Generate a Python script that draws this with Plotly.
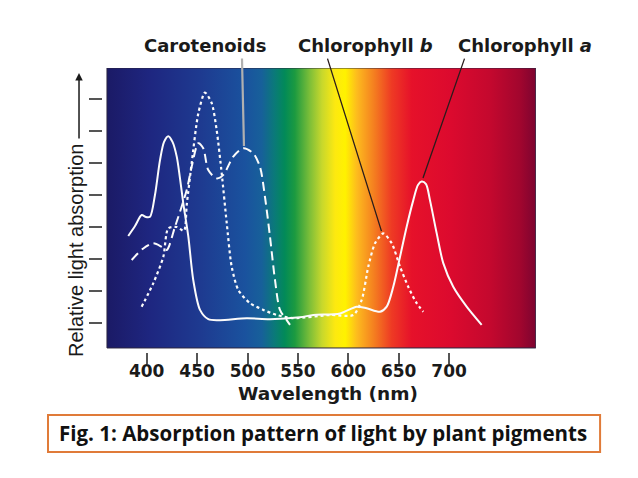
import plotly.graph_objects as go

# ---------------- data (wavelength in nm, relative absorption) ----------------
chl_a_nm = [381.7, 388.4, 395.0, 399.3, 403.3, 408.2, 413.2, 417.2, 421.4, 425.6, 429.8, 433.0,
            436.3, 441.3, 446.2, 452.9, 461.1, 472.7, 499.2, 522.3, 552.1, 565.3, 591.8, 608.3,
            618.2, 631.5, 638.1, 644.6, 651.3, 657.9, 664.5, 669.1, 672.8, 677.1, 681.0, 687.7,
            694.2, 704.1, 717.4, 732.3]
chl_a_abs = [2.72, 3.03, 3.375, 3.31, 3.32, 4.0, 5.09, 5.66, 5.84, 5.66, 5.20, 4.53,
             3.74, 2.70, 1.34, 0.41, 0.12, 0.09, 0.15, 0.12, 0.18, 0.25, 0.30, 0.51,
             0.46, 0.35, 0.51, 1.13, 2.07, 3.01, 3.84, 4.31, 4.42, 4.34, 3.84, 2.80,
             1.87, 1.13, 0.51, -0.06]

chl_b_nm = [395.0, 406.5, 416.5, 421.4, 429.8, 437.0, 439.7, 444.6, 451.2, 457.8, 464.5, 469.4,
            474.4, 479.4, 484.3, 490.9, 502.5, 515.7, 529.0, 545.4, 581.8, 605.0, 613.3, 619.8,
            626.5, 634.7, 643.1, 651.3, 659.5, 667.8, 674.4]
chl_b_abs = [0.51, 1.24, 2.07, 2.96, 3.0, 2.88, 3.69, 4.99, 6.55, 7.20, 6.87, 6.03,
             4.68, 3.12, 1.76, 1.03, 0.62, 0.41, 0.25, 0.15, 0.25, 0.25, 0.72, 1.76,
             2.49, 2.80, 2.49, 1.76, 1.13, 0.62, 0.35]

car_nm = [385.1, 396.6, 406.5, 414.9, 419.8, 428.1, 439.7, 444.6, 451.2, 456.1, 461.1, 469.4,
          476.0, 485.9, 495.8, 505.7, 512.4, 517.3, 522.3, 527.3, 532.2, 538.9, 542.2]
car_abs = [1.97, 2.33, 2.49, 2.38, 2.28, 3.01, 4.16, 4.88, 5.62, 5.46, 4.78, 4.52,
           4.63, 5.20, 5.46, 5.30, 4.88, 3.95, 2.70, 1.34, 0.41, 0.09, -0.06]

x_tick_vals = [400, 450, 500, 550, 600, 650, 700]
x_tick_text = ["400", "450", "500", "550", "600", "650", "700"]
y_tick_vals = [0, 1, 2, 3, 4, 5, 6, 7]

# visible spectrum background (wavelength stops and their colours)
spectrum_nm = [360.6, 403, 453, 497.5, 514, 527, 537, 547, 562, 574, 587, 597,
               608.6, 626.5, 643, 663, 701, 740.6, 770, 786]
spectrum_colors = ['#1b1a66', '#1e2680', '#1e3a90', '#1a529e', '#17609a', '#0a7a78',
                   '#028a58', '#1c9a40', '#7ebf38', '#c8d82c', '#fde910', '#fff200',
                   '#fdbb1e', '#f47b20', '#ee3a24', '#e6112a', '#dc0a2e', '#c4082e',
                   '#a2062e', '#7d0430']
spectrum_y = [-0.78, 7.97]

# label pointer lines: (label tail nm, tail value, peak nm, peak value)
pointer_car = (494.5, 8.31, 496.5, 5.53)
pointer_b = (578.9, 8.31, 632.9, 2.87)
pointer_a = (715.8, 8.31, 674.1, 4.53)

# ---------------- figure ----------------
fig = go.Figure()

lo, hi = spectrum_nm[0], spectrum_nm[-1]
cscale = [[(v - lo) / (hi - lo), c] for v, c in zip(spectrum_nm, spectrum_colors)]
fig.add_trace(go.Scatter(
    x=[lo, hi, hi, lo, lo],
    y=[spectrum_y[0], spectrum_y[0], spectrum_y[1], spectrum_y[1], spectrum_y[0]],
    mode="lines", fill="toself",
    fillgradient=dict(type="horizontal", colorscale=cscale),
    line=dict(color="#2b2540", width=1), hoverinfo="skip"))

line_col = "#fbfbfb"
fig.add_trace(go.Scatter(x=chl_a_nm, y=chl_a_abs, mode="lines",
                         line=dict(color=line_col, width=2, shape="spline", smoothing=0.8)))
fig.add_trace(go.Scatter(x=chl_b_nm, y=chl_b_abs, mode="lines",
                         line=dict(color=line_col, width=2.2, dash="3px,3px", shape="spline", smoothing=0.7)))
fig.add_trace(go.Scatter(x=car_nm, y=car_abs, mode="lines",
                         line=dict(color=line_col, width=2, dash="9px,5px", shape="spline", smoothing=0.8)))

ann = []
for (tx, ty, hx, hy), col, w in [(pointer_car, "#b0b0b0", 2.2), (pointer_b, "#2a1c1c", 1.3),
                                 (pointer_a, "#2a1c1c", 1.3)]:
    ann.append(dict(x=hx, y=hy, ax=tx, ay=ty, xref="x", yref="y", axref="x", ayref="y",
                    text="", showarrow=True, arrowhead=0, arrowwidth=w, arrowcolor=col))

bold = dict(family="DejaVu Sans", size=18, color="#1a1a1a", weight="bold")
C = dict(xanchor="center", yanchor="middle", showarrow=False, xref="paper", yref="paper")
ann += [
    dict(x=0.2356, y=1.079, text="Carotenoids", font=bold, **C),
    dict(x=0.607, y=1.079, text="Chlorophyll <i>b</i>", font=bold, **C),
    dict(x=0.9746, y=1.079, text="Chlorophyll <i>a</i>", font=bold, **C),
    dict(x=0.5185, y=-0.1444, text="Wavelength (nm)",
         font=dict(family="DejaVu Sans", size=18.5, color="#1a1a1a", weight="bold"), **C),
    dict(x=-0.0624, y=0.359, text="Relative light absorption", textangle=-90,
         font=dict(family="Liberation Sans", size=20, color="#1a1a1a"), **C),
    dict(x=0.507, y=-0.285, text="Fig. 1: Absorption pattern of light by plant pigments",
         font=dict(family="Open Sans", size=20.5, color="#111111", weight="bold"), **C),
    dict(x=-0.0554, y=0.982, xref="paper", yref="paper", text="", showarrow=True,
         ax=0, ay=67, axref="pixel", ayref="pixel", arrowhead=2, arrowsize=1,
         arrowwidth=1.5, arrowcolor="#1a1a1a"),
]

fig.update_layout(
    width=638, height=478,
    margin=dict(l=103, r=102, t=68, b=126),
    paper_bgcolor="white", plot_bgcolor="white",
    showlegend=False,
    annotations=ann,
    shapes=[dict(type="rect", xref="paper", yref="paper", x0=-0.127, x1=1.148,
                 y0=-0.352, y1=-0.222, line=dict(color="#e07b39", width=2))],
    xaxis=dict(range=[356.65, 786.2], tickvals=x_tick_vals, ticktext=x_tick_text,
               ticks="outside", ticklen=11, tickwidth=1.5, tickcolor="#555555",
               ticklabelstandoff=-7,
               showgrid=False, zeroline=False, showline=False,
               tickfont=dict(family="DejaVu Sans", size=17, color="#1a1a1a", weight="bold")),
    yaxis=dict(range=[-0.906, 7.969], tickvals=y_tick_vals, showticklabels=False,
               ticks="outside", ticklen=13, tickwidth=1.5, tickcolor="#555555",
               showgrid=False, zeroline=False, showline=False),
)

fig.write_html("out.html")
